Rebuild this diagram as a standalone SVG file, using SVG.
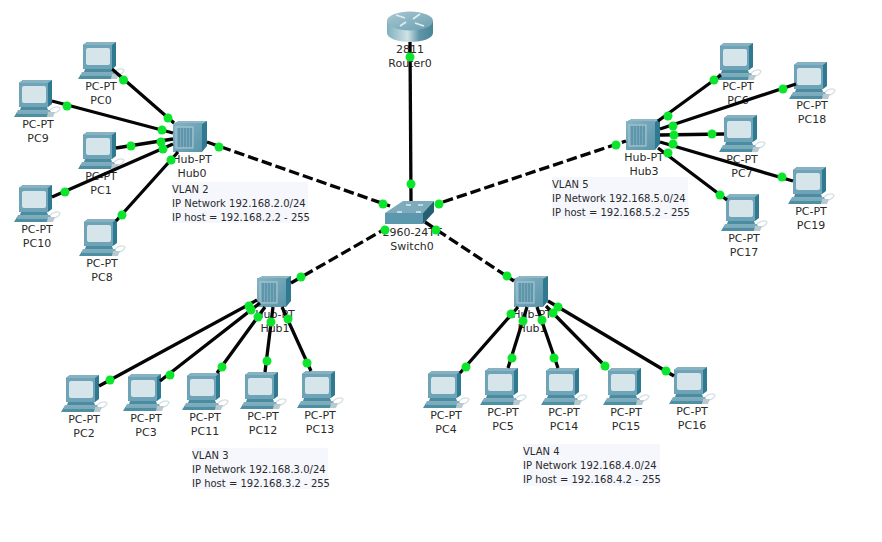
<svg xmlns="http://www.w3.org/2000/svg" width="882" height="542" viewBox="0 0 882 542">
<style>
text{font-family:"DejaVu Sans","Liberation Sans",sans-serif;font-size:11px;fill:#2a2a2a}
.l{text-anchor:middle}
.v{font-size:10px}
.n{fill:#f5f7fd}
.c{fill:none;stroke:#050505;stroke-width:3.3}
.d{stroke-dasharray:10.500 4}
.p{fill:#0be52c}
</style>
<defs>
<linearGradient id="rg" x1="0" x2="1" y1="0" y2="0"><stop offset="0" stop-color="#7fb0bd"/><stop offset=".45" stop-color="#cfe2e6"/><stop offset=".7" stop-color="#5f96a8"/><stop offset="1" stop-color="#4a8497"/></linearGradient>
<linearGradient id="rt" x1="0" x2="1" y1="0" y2="1"><stop offset="0" stop-color="#a9c8d2"/><stop offset="1" stop-color="#6a9fb1"/></linearGradient>
<linearGradient id="hf" x1="0" x2="1" y1="0" y2="1"><stop offset="0" stop-color="#86b3c3"/><stop offset="1" stop-color="#5a94a9"/></linearGradient>
<g id="pc">
<path d="M5 3L9 0H38V24L34 27H5Z" fill="#2f7a90"/>
<path d="M5 3L9 0H38L34 3Z" fill="#87b2c1"/>
<rect x="5" y="3" width="29" height="24" rx="1" fill="#6fa4b8"/>
<rect x="8" y="6" width="24" height="17" rx="2" fill="#d6e5ea"/>
<path d="M7 27H33L34 30H6Z" fill="#4c8ca1"/>
<path d="M4 30H36L37 32H3Z" fill="#7fadbd"/>
<path d="M3 32H36L33 37H0Z" fill="#4f8fa4"/>
<path d="M3 33H34" stroke="#a6c6d1" stroke-width="1"/>
<path d="M36 30Q42 25 46 28Q45 32 40 33" fill="none" stroke="#d3e0e4" stroke-width="1.3"/>
<path d="M34 32H41L39 37H33Z" fill="#b8c9cf"/>
</g>
<g id="hub">
<path d="M0 3L6 0H34V25L29 31H0Z" fill="#2f7a90"/>
<path d="M0 3L6 0H34L29 3Z" fill="#8fb8c6"/>
<rect y="2" width="29" height="29" fill="url(#hf)"/>
<rect x="3" y="6" width="17" height="21" fill="#7aa9bb" stroke="#a9c9d5"/>
<path d="M6 7V26M9 7V26M12 7V26M15 7V26M18 7V26" stroke="#4f8aa0" stroke-width="1.2"/>
</g>
</defs>
<rect width="882" height="542" fill="#fff"/>
<g id="nodes">
<g id="Router0">
<path d="M387 21V33C387 38 397 42 410 42S433 38 433 33V21Z" fill="url(#rg)"/>
<ellipse cx="410" cy="21" rx="23" ry="9.5" fill="url(#rt)"/>
<path d="M396 15L405 18M400 26L406 22M424 26L415 23M420 14L413 19" stroke="#dfecef" stroke-width="1.8" fill="none"/>
<text class="l" x="410" y="53">2811</text><text class="l" x="410" y="67">Router0</text>
</g>
<g id="Switch0">
<path d="M385 213L403 201H434L423 213Z" fill="#7eabbb"/>
<path d="M385 213H423V224H385Z" fill="#5c98ad"/>
<path d="M423 213L434 201V212L423 224Z" fill="#245f73"/>
<path d="M397 212h5M406 205h5M418 205h5M416 212h5" stroke="#dbe9ee" stroke-width="1.5"/>
<text class="l" x="412" y="236">2960-24TT</text><text class="l" x="412" y="250">Switch0</text>
</g>
<g id="Hub0"><use href="#hub" x="173" y="121"/><text class="l" x="192" y="163">Hub-PT</text><text class="l" x="192" y="177">Hub0</text></g>
<g id="Hub3"><use href="#hub" x="626" y="119"/><text class="l" x="644" y="161">Hub-PT</text><text class="l" x="644" y="175">Hub3</text></g>
<g id="Hub1a"><use href="#hub" x="257" y="276"/><text class="l" x="275" y="318">Hub-PT</text><text class="l" x="275" y="332">Hub1</text></g>
<g id="Hub1b"><use href="#hub" x="514" y="276"/><text class="l" x="532" y="318">Hub-PT</text><text class="l" x="532" y="332">Hub1</text></g>
<g id="PC0"><use href="#pc" x="78" y="42"/><text class="l" x="101" y="90">PC-PT</text><text class="l" x="101" y="104">PC0</text></g>
<g id="PC9"><use href="#pc" x="14" y="80"/><text class="l" x="38" y="128">PC-PT</text><text class="l" x="38" y="142">PC9</text></g>
<g id="PC1"><use href="#pc" x="78" y="132"/><text class="l" x="101" y="180">PC-PT</text><text class="l" x="101" y="194">PC1</text></g>
<g id="PC10"><use href="#pc" x="14" y="185"/><text class="l" x="37" y="233">PC-PT</text><text class="l" x="37" y="247">PC10</text></g>
<g id="PC8"><use href="#pc" x="79" y="219"/><text class="l" x="102" y="267">PC-PT</text><text class="l" x="102" y="281">PC8</text></g>
<g id="PC6"><use href="#pc" x="715" y="43"/><text class="l" x="738" y="90">PC-PT</text><text class="l" x="738" y="104">PC6</text></g>
<g id="PC18"><use href="#pc" x="789" y="62"/><text class="l" x="812" y="109">PC-PT</text><text class="l" x="812" y="123">PC18</text></g>
<g id="PC7"><use href="#pc" x="719" y="115"/><text class="l" x="742" y="163">PC-PT</text><text class="l" x="742" y="177">PC7</text></g>
<g id="PC19"><use href="#pc" x="788" y="167"/><text class="l" x="811" y="215">PC-PT</text><text class="l" x="811" y="229">PC19</text></g>
<g id="PC17"><use href="#pc" x="721" y="194"/><text class="l" x="744" y="242">PC-PT</text><text class="l" x="744" y="256">PC17</text></g>
<g id="PC2"><use href="#pc" x="61" y="375"/><text class="l" x="84" y="423">PC-PT</text><text class="l" x="84" y="437">PC2</text></g>
<g id="PC3"><use href="#pc" x="123" y="374"/><text class="l" x="146" y="422">PC-PT</text><text class="l" x="146" y="436">PC3</text></g>
<g id="PC11"><use href="#pc" x="182" y="373"/><text class="l" x="205" y="421">PC-PT</text><text class="l" x="205" y="435">PC11</text></g>
<g id="PC12"><use href="#pc" x="240" y="372"/><text class="l" x="263" y="420">PC-PT</text><text class="l" x="263" y="434">PC12</text></g>
<g id="PC13"><use href="#pc" x="297" y="371"/><text class="l" x="320" y="419">PC-PT</text><text class="l" x="320" y="433">PC13</text></g>
<g id="PC4"><use href="#pc" x="423" y="371"/><text class="l" x="446" y="419">PC-PT</text><text class="l" x="446" y="433">PC4</text></g>
<g id="PC5"><use href="#pc" x="480" y="368"/><text class="l" x="503" y="416">PC-PT</text><text class="l" x="503" y="430">PC5</text></g>
<g id="PC14"><use href="#pc" x="541" y="368"/><text class="l" x="564" y="416">PC-PT</text><text class="l" x="564" y="430">PC14</text></g>
<g id="PC15"><use href="#pc" x="603" y="368"/><text class="l" x="626" y="416">PC-PT</text><text class="l" x="626" y="430">PC15</text></g>
<g id="PC16"><use href="#pc" x="669" y="367"/><text class="l" x="692" y="415">PC-PT</text><text class="l" x="692" y="429">PC16</text></g>
<g id="VLAN2"><rect class="n" x="172" y="182" width="136" height="41"/><text class="v" x="172" y="193">VLAN 2</text><text class="v" x="172" y="207">IP Network 192.168.2.0/24</text><text class="v" x="172" y="221">IP host = 192.168.2.2 - 255</text></g>
<g id="VLAN5"><rect class="n" x="552" y="177" width="136" height="42"/><text class="v" x="552" y="188">VLAN 5</text><text class="v" x="552" y="202">IP Network 192.168.5.0/24</text><text class="v" x="552" y="216">IP host = 192.168.5.2 - 255</text></g>
<g id="VLAN3"><rect class="n" x="192" y="448" width="136" height="41"/><text class="v" x="192" y="459">VLAN 3</text><text class="v" x="192" y="473">IP Network 192.168.3.0/24</text><text class="v" x="192" y="487">IP host = 192.168.3.2 - 255</text></g>
<g id="VLAN4"><rect class="n" x="523" y="444" width="137" height="42"/><text class="v" x="523" y="455">VLAN 4</text><text class="v" x="523" y="469">IP Network 192.168.4.0/24</text><text class="v" x="523" y="483">IP host = 192.168.4.2 - 255</text></g>
</g>
<g id="connectors">
<path class="c" d="M410 42L411 201"/>
<path class="c d" d="M207 142L390 206"/>
<path class="c d" d="M443 202L626 141"/>
<path class="c d" d="M291 283L385 229"/>
<path class="c d" d="M425 222L514 281"/>
<path class="c" d="M112 69L174 123M52 101L173 133M116 148L173 139M52 197L173 144M116 221L178 152"/>
<path class="c" d="M658 121L721 75M660 129L796 84M660 135L724 134M660 142L793 181M658 148L727 200"/>
<path class="c" d="M99 386L257 300M160 381L260 303M217 373L265 307M265 372L273 307M311 371L282 307"/>
<path class="c" d="M460 373L518 307M508 368L527 307M558 368L537 307M608 369L546 306M674 376L548 301"/>
<g class="p">
<circle cx="410" cy="57" r="4.500"/><circle cx="411" cy="184" r="4.500"/><circle cx="383" cy="204" r="4.500"/><circle cx="439" cy="204" r="4.500"/><circle cx="385" cy="230" r="4.500"/><circle cx="436" cy="230" r="4.500"/>
<circle cx="219" cy="147" r="4.500"/><circle cx="616" cy="145" r="4.500"/><circle cx="301" cy="277" r="4.500"/><circle cx="507" cy="276" r="4.500"/>
<circle cx="123.500" cy="80" r="4.500"/><circle cx="168" cy="118" r="4.500"/><circle cx="67" cy="106" r="4.500"/><circle cx="162" cy="130" r="4.500"/><circle cx="131" cy="146" r="4.500"/><circle cx="161" cy="142" r="4.500"/><circle cx="65" cy="192" r="4.500"/><circle cx="163" cy="149" r="4.500"/><circle cx="122" cy="215" r="4.500"/><circle cx="171" cy="160" r="4.500"/>
<circle cx="668" cy="116" r="4.500"/><circle cx="714" cy="80" r="4.500"/><circle cx="673" cy="126" r="4.500"/><circle cx="783" cy="89" r="4.500"/><circle cx="674" cy="135" r="4.500"/><circle cx="712" cy="134" r="4.500"/><circle cx="673" cy="144" r="4.500"/><circle cx="782" cy="177" r="4.500"/><circle cx="668" cy="153" r="4.500"/><circle cx="720" cy="195" r="4.500"/>
<circle cx="110" cy="380" r="4.500"/><circle cx="249" cy="306" r="4.500"/><circle cx="170" cy="375" r="4.500"/><circle cx="251" cy="310" r="4.500"/><circle cx="222" cy="367" r="4.500"/><circle cx="258" cy="317" r="4.500"/><circle cx="267" cy="361" r="4.500"/><circle cx="271" cy="322" r="4.500"/><circle cx="307" cy="363" r="4.500"/><circle cx="288" cy="319" r="4.500"/>
<circle cx="466" cy="367" r="4.500"/><circle cx="511" cy="314" r="4.500"/><circle cx="512" cy="358" r="4.500"/><circle cx="523" cy="321" r="4.500"/><circle cx="554" cy="358" r="4.500"/><circle cx="542" cy="320" r="4.500"/><circle cx="605" cy="366" r="4.500"/><circle cx="553" cy="313" r="4.500"/><circle cx="666" cy="371" r="4.500"/><circle cx="558" cy="307" r="4.500"/>
</g>
</g>
</svg>
